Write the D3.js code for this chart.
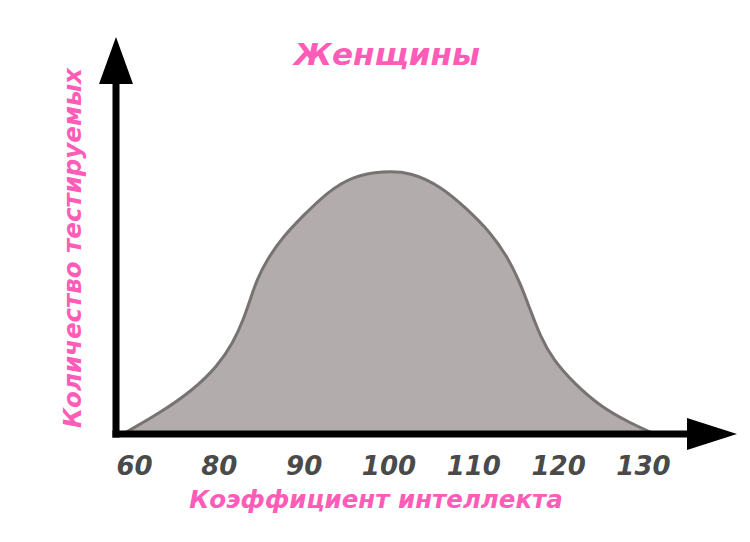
<!DOCTYPE html>
<html>
<head>
<meta charset="utf-8">
<script src="https://cdn.jsdelivr.net/npm/d3@7"></script>
<style>
  body { margin: 0; background: #fff; }
  text { font-family: "DejaVu Sans", Verdana, sans-serif; font-weight: bold; font-style: italic; }
  .pink { fill: #fe5cb6; }
  .tick text { fill: #4a4a4a; }
</style>
</head>
<body>
<svg id="chart" width="750" height="542"></svg>
<script>
  // tick labels (not evenly spaced in value, drawn at equal steps)
  const iqLabels = ["60", "80", "90", "100", "110", "120", "130"];

  // curve: position in tick steps, relative count (peak = 100)
  const curvePos = [-0.11, 0.31, 0.70, 0.98, 1.17, 1.29, 1.37, 1.45, 1.57, 1.76, 1.99, 2.28, 2.58, 2.94, 3.26, 3.61, 3.93, 4.20, 4.40, 4.55, 4.67, 4.79, 4.94, 5.18, 5.50, 5.85, 6.11];
  const curveVal = [0, 7.7, 16.5, 25.3, 34.5, 43.3, 51, 58.6, 66.3, 75.1, 82.8, 92, 98.1, 100, 99.6, 94.3, 85.4, 76.6, 67.4, 57.5, 47.1, 36.8, 28, 19.2, 10, 3.8, 0];

  const svg = d3.select("#chart");

  const x = d3.scaleLinear().domain([0, 6]).range([134, 643]);
  const y = d3.scaleLinear().domain([0, 100]).range([433, 171]);

  const points = curvePos.map((p, i) => ({ p: p, v: curveVal[i] }));

  const area = d3.area()
    .x(d => x(d.p))
    .y0(y(0))
    .y1(d => y(d.v))
    .curve(d3.curveBasis);

  const line = d3.line()
    .x(d => x(d.p))
    .y(d => y(d.v))
    .curve(d3.curveBasis);

  svg.append("path")
    .datum(points)
    .attr("d", area)
    .attr("fill", "#b2acac");

  svg.append("path")
    .datum(points)
    .attr("d", line)
    .attr("fill", "none")
    .attr("stroke", "#787272")
    .attr("stroke-width", 3);

  // axes with arrows
  const axisX = 116;
  const axisY = 434;

  svg.append("line")
    .attr("x1", axisX).attr("y1", axisY + 3.5)
    .attr("x2", axisX).attr("y2", 82)
    .attr("stroke", "#000").attr("stroke-width", 7);

  svg.append("path")
    .attr("d", `M${axisX},37 L${axisX - 17},84 L${axisX + 17},84 Z`)
    .attr("fill", "#000");

  svg.append("line")
    .attr("x1", axisX - 3.5).attr("y1", axisY)
    .attr("x2", 690).attr("y2", axisY)
    .attr("stroke", "#000").attr("stroke-width", 7);

  svg.append("path")
    .attr("d", `M737,${axisY} L687,${axisY - 16} L687,${axisY + 16} Z`)
    .attr("fill", "#000");

  // tick labels
  const xAxis = svg.append("g")
    .attr("transform", `translate(0,${axisY})`)
    .call(d3.axisBottom(x)
      .tickValues(d3.range(iqLabels.length))
      .tickFormat(i => iqLabels[i])
      .tickSize(0)
      .tickPadding(0));

  xAxis.select(".domain").remove();
  xAxis.selectAll("text")
    .attr("dy", null)
    .attr("y", 41)
    .style("font-size", "26px")
    .style("font-family", "'DejaVu Sans', Verdana, sans-serif");

  // titles
  svg.append("text")
    .attr("class", "pink")
    .attr("x", 387)
    .attr("y", 65)
    .attr("text-anchor", "middle")
    .style("font-size", "31px")
    .text("Женщины");

  svg.append("text")
    .attr("class", "pink")
    .attr("x", 376)
    .attr("y", 508)
    .attr("text-anchor", "middle")
    .style("font-size", "24.5px")
    .text("Коэффициент интеллекта");

  svg.append("text")
    .attr("class", "pink")
    .attr("transform", "translate(81,248) rotate(-90)")
    .attr("text-anchor", "middle")
    .style("font-size", "24.5px")
    .text("Количество тестируемых");
</script>
</body>
</html>
